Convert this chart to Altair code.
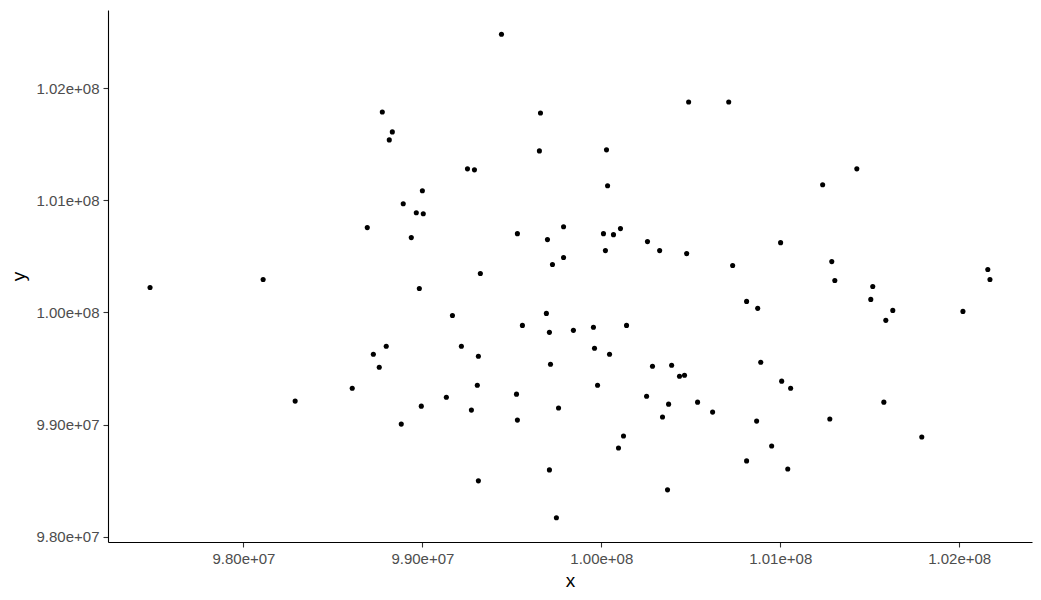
import altair as alt
import pandas as pd

x_vals = [
    97.478e6, 98.110e6, 98.289e6, 98.608e6, 98.692e6, 98.726e6, 98.759e6, 98.776e6, 98.798e6, 98.815e6,
    98.832e6, 98.882e6, 98.893e6, 98.938e6, 98.966e6, 98.983e6, 98.994e6, 99.000e6, 99.005e6, 99.134e6,
    99.168e6, 99.218e6, 99.252e6, 99.291e6, 99.274e6, 99.307e6, 99.313e6, 99.313e6, 99.324e6, 99.442e6,
    99.526e6, 99.531e6, 99.531e6, 99.559e6, 99.660e6, 99.654e6, 99.693e6, 99.710e6, 99.716e6, 99.699e6,
    99.710e6, 99.727e6, 99.749e6, 99.761e6, 99.789e6, 99.789e6, 99.844e6, 99.956e6, 99.962e6, 99.979e6,
    100.012e6, 100.023e6, 100.029e6, 100.035e6, 100.046e6, 100.068e6, 100.107e6, 100.096e6, 100.124e6, 100.141e6,
    100.253e6, 100.258e6, 100.286e6, 100.326e6, 100.342e6, 100.370e6, 100.376e6, 100.393e6, 100.437e6, 100.465e6,
    100.477e6, 100.488e6, 100.538e6, 100.622e6, 100.712e6, 100.734e6, 100.812e6, 100.812e6, 100.874e6, 100.868e6,
    100.891e6, 100.952e6, 101.002e6, 101.008e6, 101.042e6, 101.058e6, 101.237e6, 101.277e6, 101.288e6, 101.305e6,
    101.428e6, 101.506e6, 101.517e6, 101.579e6, 101.590e6, 101.629e6, 101.791e6, 102.021e6, 102.160e6, 102.172e6,
]
y_vals = [
    100.222e6, 100.293e6, 99.209e6, 99.324e6, 100.756e6, 99.627e6, 99.511e6, 101.787e6, 99.698e6, 101.538e6,
    101.609e6, 99.004e6, 100.969e6, 100.667e6, 100.889e6, 100.213e6, 99.164e6, 101.084e6, 100.880e6, 99.244e6,
    99.973e6, 99.698e6, 101.280e6, 101.271e6, 99.129e6, 99.351e6, 99.609e6, 98.498e6, 100.347e6, 102.480e6,
    99.271e6, 99.040e6, 100.702e6, 99.884e6, 101.778e6, 101.440e6, 99.991e6, 99.822e6, 99.538e6, 100.649e6,
    98.596e6, 100.427e6, 98.169e6, 99.147e6, 100.764e6, 100.489e6, 99.840e6, 99.867e6, 99.680e6, 99.351e6,
    100.702e6, 100.551e6, 101.449e6, 101.129e6, 99.627e6, 100.693e6, 100.747e6, 98.791e6, 98.898e6, 99.884e6,
    99.253e6, 100.631e6, 99.520e6, 100.551e6, 99.067e6, 98.418e6, 99.182e6, 99.529e6, 99.431e6, 99.440e6,
    100.524e6, 101.876e6, 99.200e6, 99.111e6, 101.876e6, 100.418e6, 100.098e6, 98.676e6, 100.036e6, 99.031e6,
    99.556e6, 98.809e6, 100.622e6, 99.387e6, 98.604e6, 99.324e6, 101.138e6, 99.049e6, 100.453e6, 100.284e6,
    101.280e6, 100.116e6, 100.231e6, 99.200e6, 99.929e6, 100.018e6, 98.889e6, 100.009e6, 100.382e6, 100.293e6,
]
x_ticks = [98.0e6, 99.0e6, 100.0e6, 101.0e6, 102.0e6]
y_ticks = [98.0e6, 99.0e6, 100.0e6, 101.0e6, 102.0e6]

df = pd.DataFrame({"x": x_vals, "y": y_vals})

label_expr = ("datum.value >= 1e8 ? format(datum.value / 1e8, '.2f') + 'e+08' "
              ": format(datum.value / 1e7, '.2f') + 'e+07'")

axis_common = dict(
    domainColor="black", domainWidth=1.1,
    tickColor="#333333", tickSize=5, tickWidth=1.1,
    labelColor="#4D4D4D", labelFontSize=15, labelFont="Liberation Sans",
    titleColor="black", titleFontSize=19, titleFont="Liberation Sans", titleFontWeight="normal",
    grid=False, labelExpr=label_expr,
)

chart = alt.Chart(df).mark_circle(size=26, color="black", opacity=1).encode(
    x=alt.X("x:Q", scale=alt.Scale(domain=[97.243e6, 102.407e6], nice=False, zero=False),
            axis=alt.Axis(values=x_ticks, labelPadding=4, titlePadding=5, **axis_common)),
    y=alt.Y("y:Q", scale=alt.Scale(domain=[97.953e6, 102.696e6], nice=False, zero=False),
            axis=alt.Axis(values=y_ticks, labelPadding=4, titlePadding=8, **axis_common)),
).properties(
    width=924, height=532,
    autosize=alt.AutoSizeParams(type="none"),
    padding={"left": 100, "top": 2, "right": 1, "bottom": 48},
).configure(background="white").configure_view(stroke="transparent", strokeWidth=0)

chart.save("out.html", embed_options={"renderer": "svg", "actions": False})
